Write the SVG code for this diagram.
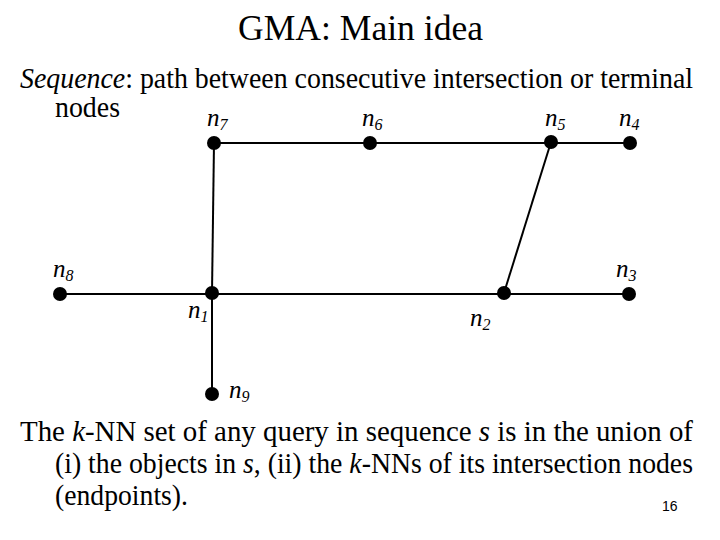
<svg xmlns="http://www.w3.org/2000/svg" width="720" height="540" viewBox="0 0 720 540">
<style>
.t{font-family:'Liberation Serif','DejaVu Serif',serif;fill:#000}
.lbl{font-family:'Liberation Serif','DejaVu Serif',serif;font-style:italic;font-size:25px;fill:#000}
.sub{font-size:16px}
.e{stroke:#000;stroke-width:2;fill:none}
.n{fill:#000}
</style>
<rect width="720" height="540" fill="#fff"/>
<text class="t" x="238" y="40" font-size="35" textLength="245" lengthAdjust="spacingAndGlyphs">GMA: Main idea</text>
<text class="t" x="20" y="88" font-size="29" textLength="673" lengthAdjust="spacingAndGlyphs"><tspan font-style="italic">Sequence</tspan>: path between consecutive intersection or terminal</text>
<text class="t" x="55" y="117" font-size="29" textLength="65" lengthAdjust="spacingAndGlyphs">nodes</text>
<g id="connectors">
<line class="e" x1="214" y1="143" x2="630" y2="143"/>
<line class="e" x1="214" y1="143" x2="212" y2="293"/>
<line class="e" x1="212" y1="293" x2="212" y2="394"/>
<line class="e" x1="60" y1="294" x2="629" y2="294"/>
<line class="e" x1="551" y1="142" x2="504" y2="293"/>
</g>
<g id="n7"><circle class="n" cx="214" cy="143" r="7"/><text class="lbl" x="207" y="126">n<tspan class="sub" dy="4">7</tspan></text></g>
<g id="n6"><circle class="n" cx="370" cy="143" r="7"/><text class="lbl" x="362" y="126">n<tspan class="sub" dy="4">6</tspan></text></g>
<g id="n5"><circle class="n" cx="551" cy="142" r="7"/><text class="lbl" x="545" y="126">n<tspan class="sub" dy="4">5</tspan></text></g>
<g id="n4"><circle class="n" cx="630" cy="143" r="7"/><text class="lbl" x="619" y="126">n<tspan class="sub" dy="4">4</tspan></text></g>
<g id="n8"><circle class="n" cx="60" cy="294" r="7"/><text class="lbl" x="53" y="277">n<tspan class="sub" dy="4">8</tspan></text></g>
<g id="n1"><circle class="n" cx="212" cy="293" r="7"/><text class="lbl" x="188" y="318">n<tspan class="sub" dy="4">1</tspan></text></g>
<g id="n2"><circle class="n" cx="504" cy="293" r="7"/><text class="lbl" x="470" y="326">n<tspan class="sub" dy="4">2</tspan></text></g>
<g id="n3"><circle class="n" cx="629" cy="294" r="7"/><text class="lbl" x="616" y="277">n<tspan class="sub" dy="4">3</tspan></text></g>
<g id="n9"><circle class="n" cx="212" cy="394" r="7"/><text class="lbl" x="229" y="398">n<tspan class="sub" dy="4">9</tspan></text></g>
<text class="t" x="20" y="441" font-size="29" textLength="673" lengthAdjust="spacingAndGlyphs">The <tspan font-style="italic">k</tspan>-NN set of any query in sequence <tspan font-style="italic">s</tspan> is in the union of</text>
<text class="t" x="55" y="473" font-size="29" textLength="638" lengthAdjust="spacingAndGlyphs">(i) the objects in <tspan font-style="italic">s</tspan>, (ii) the <tspan font-style="italic">k</tspan>-NNs of its intersection nodes</text>
<text class="t" x="55" y="505" font-size="29" textLength="133" lengthAdjust="spacingAndGlyphs">(endpoints).</text>
<text x="662" y="511" font-size="14" font-family="'Liberation Sans', Arial, sans-serif">16</text>
</svg>
